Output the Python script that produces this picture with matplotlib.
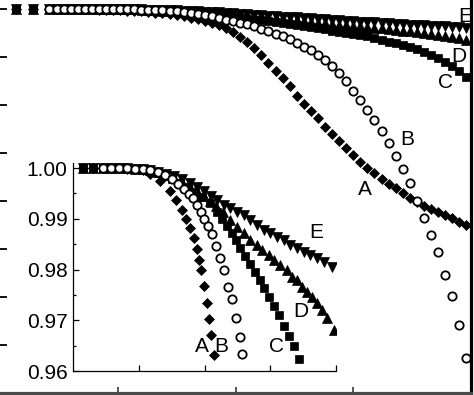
import matplotlib
matplotlib.use('Agg')
import matplotlib.pyplot as plt
from matplotlib.ticker import FormatStrFormatter, MultipleLocator

plt.rcParams['font.family'] = ['Liberation Sans', 'DejaVu Sans']

# ---- main panel: all curves share one time grid ----
t_main = [0.14, 0.28,
          0.42, 0.48, 0.54, 0.60, 0.66, 0.72, 0.78, 0.84, 0.90, 0.96,
          1.02, 1.08, 1.14, 1.20, 1.26, 1.32, 1.38, 1.44, 1.50, 1.56,
          1.62, 1.68, 1.74, 1.80, 1.86, 1.92, 1.98, 2.04, 2.10, 2.16,
          2.22, 2.28, 2.34, 2.40, 2.46, 2.52, 2.58, 2.64, 2.70, 2.76,
          2.82, 2.88, 2.94, 3.00, 3.06, 3.12, 3.18, 3.24, 3.30, 3.36,
          3.42, 3.48, 3.54, 3.60, 3.66, 3.72, 3.78, 3.84, 3.90, 3.96]

A_main = [1.0, 1.0, 1.0, 1.0, 1.0, 1.0, 1.0, 0.9998, 0.9996, 0.9994, 0.9992, 0.9990,
          0.9986, 0.9983, 0.9979, 0.9974, 0.9969, 0.9962, 0.9955, 0.9948, 0.9938, 0.9927,
          0.9911, 0.9896, 0.9880, 0.9859, 0.9833, 0.9802, 0.9760, 0.9708, 0.9656, 0.9594,
          0.9521, 0.9438, 0.9354, 0.9281, 0.9198, 0.9094, 0.9010, 0.8938, 0.8865, 0.8771,
          0.8698, 0.8625, 0.8552, 0.8479, 0.8406, 0.8344, 0.8292, 0.8229, 0.8177, 0.8135,
          0.8083, 0.8031, 0.7990, 0.7948, 0.7917, 0.7885, 0.7854, 0.7823, 0.7781, 0.7750]

# B starts at the third time point
B_main = [1.0, 1.0, 1.0, 1.0, 1.0, 1.0, 1.0, 1.0, 1.0, 0.9999,
          0.9998, 0.9997, 0.9996, 0.9994, 0.9992, 0.9989, 0.9985, 0.9981, 0.9976, 0.9969,
          0.9961, 0.9951, 0.9938, 0.9922, 0.9906, 0.9885, 0.9870, 0.9854, 0.9839, 0.9818,
          0.9792, 0.9771, 0.9740, 0.9719, 0.9688, 0.9646, 0.9609, 0.9573, 0.9521, 0.9469,
          0.9406, 0.9333, 0.9250, 0.9146, 0.9052, 0.8948, 0.8844, 0.8729, 0.8604, 0.8469,
          0.8333, 0.8188, 0.8000, 0.7823, 0.7646, 0.7469, 0.7229, 0.7010, 0.6708, 0.6365]

C_main = [1.0, 1.0, 1.0, 1.0, 1.0, 1.0, 1.0, 1.0, 1.0,
          0.9998, 0.9996, 0.9994, 0.9992, 0.9990, 0.9986, 0.9983, 0.9980, 0.9977, 0.9973,
          0.9969, 0.9965, 0.9959, 0.9954, 0.9949, 0.9943, 0.9936, 0.9929, 0.9922, 0.9915,
          0.9906, 0.9898, 0.9890, 0.9881, 0.9872, 0.9863, 0.9853, 0.9844, 0.9833, 0.9823,
          0.9813, 0.9802, 0.9792, 0.9776, 0.9760, 0.9750, 0.9740, 0.9729, 0.9714, 0.9703,
          0.9677, 0.9661, 0.9646, 0.9625, 0.9604, 0.9583, 0.9552, 0.9526, 0.9490, 0.9448,
          0.9406, 0.9354, 0.9292]

D_main = [1.0, 1.0, 1.0, 1.0, 1.0, 1.0, 1.0, 1.0, 1.0, 1.0, 1.0,
          0.9999, 0.9998, 0.9997, 0.9996, 0.9995, 0.9993, 0.9991, 0.9988, 0.9985, 0.9982,
          0.9979, 0.9975, 0.9970, 0.9966, 0.9961, 0.9957, 0.9952, 0.9946, 0.9940, 0.9934,
          0.9927, 0.9920, 0.9913, 0.9905, 0.9897, 0.9889, 0.9881, 0.9874, 0.9866, 0.9858,
          0.9852, 0.9845, 0.9838, 0.9832, 0.9826, 0.9819, 0.9812, 0.9806, 0.9800, 0.9790,
          0.9783, 0.9776, 0.9766, 0.9758, 0.9750, 0.9742, 0.9732, 0.9721, 0.9709, 0.9695,
          0.9682]

E_main = [1.0, 1.0, 1.0, 1.0, 1.0, 1.0, 1.0, 1.0, 1.0, 1.0, 1.0,
          0.9999, 0.9998, 0.9997, 0.9996, 0.9995, 0.9994, 0.9992, 0.9990, 0.9988, 0.9986,
          0.9983, 0.9980, 0.9977, 0.9973, 0.9969, 0.9965, 0.9961, 0.9956, 0.9951, 0.9946,
          0.9940, 0.9935, 0.9929, 0.9925, 0.9920, 0.9916, 0.9912, 0.9908, 0.9903, 0.9899,
          0.9893, 0.9888, 0.9882, 0.9877, 0.9872, 0.9868, 0.9864, 0.9860, 0.9856, 0.9850,
          0.9846, 0.9842, 0.9836, 0.9833, 0.9830, 0.9826, 0.9822, 0.9818, 0.9813, 0.9809,
          0.9805]

# ---- inset (zoom on 0.96 - 1.00) ----
A_in_t = [0.152, 0.304, 0.456, 0.578, 0.700, 0.821, 0.943, 1.065, 1.171, 1.323, 1.475, 1.567,
          1.658, 1.719, 1.779, 1.840, 1.886, 1.916, 1.947, 1.992, 2.038, 2.068, 2.099, 2.144]
A_in = [1.0, 1.0, 1.0, 1.0, 1.0, 0.9999, 0.9998, 0.9996, 0.9988, 0.9974, 0.9955, 0.9937,
        0.9917, 0.9900, 0.9882, 0.9862, 0.9840, 0.9819, 0.9799, 0.9767, 0.9734, 0.9702, 0.9671, 0.9632]

B_in_t = [0.456, 0.578, 0.700, 0.821, 0.943, 1.065, 1.171, 1.293, 1.399, 1.506, 1.597, 1.688,
          1.764, 1.825, 1.886, 1.947, 1.992, 2.053, 2.114, 2.175, 2.236, 2.297, 2.357, 2.418,
          2.479, 2.540, 2.570]
B_in = [1.0, 1.0, 1.0, 1.0, 0.9999, 0.9998, 0.9996, 0.9992, 0.9986, 0.9978, 0.9968, 0.9959,
        0.9949, 0.9941, 0.9927, 0.9913, 0.9900, 0.9886, 0.9870, 0.9846, 0.9823, 0.9799,
        0.9766, 0.9742, 0.9704, 0.9667, 0.9634]

C_in_t = [0.152, 0.304, 0.456, 0.578, 0.700, 0.821, 0.943, 1.065, 1.171, 1.293, 1.399, 1.506,
          1.627, 1.749, 1.856, 1.962, 2.084, 2.190, 2.266, 2.342, 2.418, 2.479, 2.540, 2.616,
          2.692, 2.768, 2.844, 2.905, 2.981, 3.057, 3.133, 3.209, 3.285, 3.361, 3.437]
C_in = [1.0, 1.0, 1.0, 1.0, 1.0, 1.0, 0.9999, 0.9998, 0.9994, 0.9990, 0.9984, 0.9978,
        0.9970, 0.9963, 0.9953, 0.9943, 0.9931, 0.9913, 0.9900, 0.9886, 0.9872, 0.9858,
        0.9842, 0.9827, 0.9811, 0.9795, 0.9779, 0.9764, 0.9746, 0.9728, 0.9710, 0.9689,
        0.9669, 0.9649, 0.9624]

D_in_t = [0.152, 0.304, 0.456, 0.578, 0.700, 0.821, 0.943, 1.065, 1.171, 1.293, 1.414, 1.536,
          1.658, 1.779, 1.886, 1.992, 2.084, 2.175, 2.281, 2.388, 2.494, 2.601, 2.692, 2.798,
          2.875, 2.981, 3.057, 3.148, 3.255, 3.331, 3.407, 3.483, 3.559, 3.635, 3.711, 3.787,
          3.863, 3.970]
D_in = [1.0, 1.0, 1.0, 1.0, 1.0, 1.0, 0.9999, 0.9998, 0.9996, 0.9992, 0.9986, 0.9980,
        0.9972, 0.9963, 0.9955, 0.9945, 0.9935, 0.9925, 0.9913, 0.9898, 0.9884, 0.9872,
        0.9858, 0.9848, 0.9838, 0.9829, 0.9819, 0.9809, 0.9799, 0.9785, 0.9779, 0.9766,
        0.9756, 0.9746, 0.9734, 0.9720, 0.9704, 0.9681]

E_in_t = [0.152, 0.304, 0.456, 0.578, 0.700, 0.821, 0.943, 1.065, 1.171, 1.293, 1.414, 1.536,
          1.658, 1.779, 1.886, 1.992, 2.099, 2.190, 2.297, 2.388, 2.494, 2.601, 2.692, 2.798,
          2.905, 2.996, 3.103, 3.209, 3.300, 3.407, 3.513, 3.605, 3.711, 3.817, 3.939]
E_in = [1.0, 1.0, 1.0, 1.0, 1.0, 1.0, 0.9999, 0.9998, 0.9996, 0.9993, 0.9989, 0.9984,
        0.9978, 0.9970, 0.9963, 0.9955, 0.9945, 0.9937, 0.9927, 0.9921, 0.9913, 0.9907,
        0.9898, 0.9888, 0.9878, 0.9872, 0.9864, 0.9858, 0.9848, 0.9842, 0.9834, 0.9829,
        0.9823, 0.9815, 0.9805]

main_ticks_y = [0.65, 0.70, 0.75, 0.80, 0.85, 0.90, 0.95, 1.00]
main_ticks_x = [1, 2, 3]
inset_ticks_y = [0.96, 0.97, 0.98, 0.99, 1.00]
inset_ticks_x = [1, 2, 3, 4]

# marker styles per curve
style = {
    'A': dict(marker='D', ms=5.0, mfc='black', mec='black', mew=0.5),
    'B': dict(marker='o', ms=6.0, mfc='white', mec='black', mew=1.3),
    'C': dict(marker='s', ms=5.8, mfc='black', mec='black', mew=0.5),
    'D': dict(marker='^', ms=7.0, mfc='black', mec='black', mew=0.5),
    'E': dict(marker='v', ms=7.0, mfc='black', mec='black', mew=0.5),
}

fig = plt.figure(figsize=(4.74, 3.95), dpi=100)

# main axes runs past the top and left edge of the picture
ax = fig.add_axes([0.0, 2 / 395, 471 / 474, 432 / 395])
ax.plot(t_main, C_main, ls='none', **style['C'])
ax.plot(t_main, A_main, ls='none', **style['A'])
ax.plot(t_main, D_main, ls='none', **style['D'])
ax.plot(t_main, E_main, ls='none', **style['E'])
ax.plot(t_main[2:], B_main, ls='none', **style['B'])

ax.set_xlim(0, 4)
ax.set_ylim(0.60, 1.05)
ax.set_xticks(main_ticks_x)
ax.set_yticks(main_ticks_y)
ax.tick_params(axis='y', direction='in', length=5, width=1.3, labelleft=False)
ax.tick_params(axis='x', direction='in', length=4.5, width=1.3, color='#444444', labelbottom=False)
ax.spines['left'].set_visible(False)
ax.spines['top'].set_visible(False)
ax.spines['right'].set_linewidth(2.3)
ax.spines['bottom'].set_linewidth(2.3)
ax.spines['bottom'].set_color('#4a4a4a')

lbl = dict(fontsize=15, ha='center', va='baseline')
ax.text(3.95, 0.9865, 'E', **lbl)
ax.text(3.90, 0.9448, 'D', **lbl)
ax.text(3.78, 0.9177, 'C', **lbl)
ax.text(3.46, 0.8583, 'B', **lbl)
ax.text(3.10, 0.8063, 'A', **lbl)

# inset
axin = fig.add_axes([73 / 474, 24 / 395, 263 / 474, 208 / 395])
axin.set_facecolor('none')
axin.plot(C_in_t, C_in, ls='none', **style['C'])
axin.plot(A_in_t, A_in, ls='none', **style['A'])
axin.plot(D_in_t, D_in, ls='none', **style['D'])
axin.plot(E_in_t, E_in, ls='none', **style['E'])
axin.plot(B_in_t, B_in, ls='none', **style['B'])

axin.set_xlim(0, 4)
axin.set_ylim(0.96, 1.001)
axin.set_xticks(inset_ticks_x)
axin.set_yticks(inset_ticks_y)
axin.yaxis.set_minor_locator(MultipleLocator(0.005))
axin.yaxis.set_major_formatter(FormatStrFormatter('%.2f'))
axin.tick_params(axis='both', which='major', direction='in', length=4, width=0.9,
                 labelsize=15, pad=4)
axin.tick_params(axis='y', which='minor', direction='in', length=2.5, width=0.9)
axin.tick_params(axis='x', labelbottom=False)
axin.spines['top'].set_visible(False)
axin.spines['right'].set_visible(False)
axin.spines['left'].set_linewidth(0.9)
axin.spines['bottom'].set_linewidth(0.9)

lbl_in = dict(fontsize=15, ha='center', va='baseline')
axin.text(3.703, 0.9862, 'E', **lbl_in)
axin.text(3.460, 0.9706, 'D', **lbl_in)
axin.text(3.095, 0.9637, 'C', **lbl_in)
axin.text(1.962, 0.9637, 'A', **lbl_in)
axin.text(2.259, 0.9637, 'B', **lbl_in)

fig.savefig('out.png', dpi=100)
